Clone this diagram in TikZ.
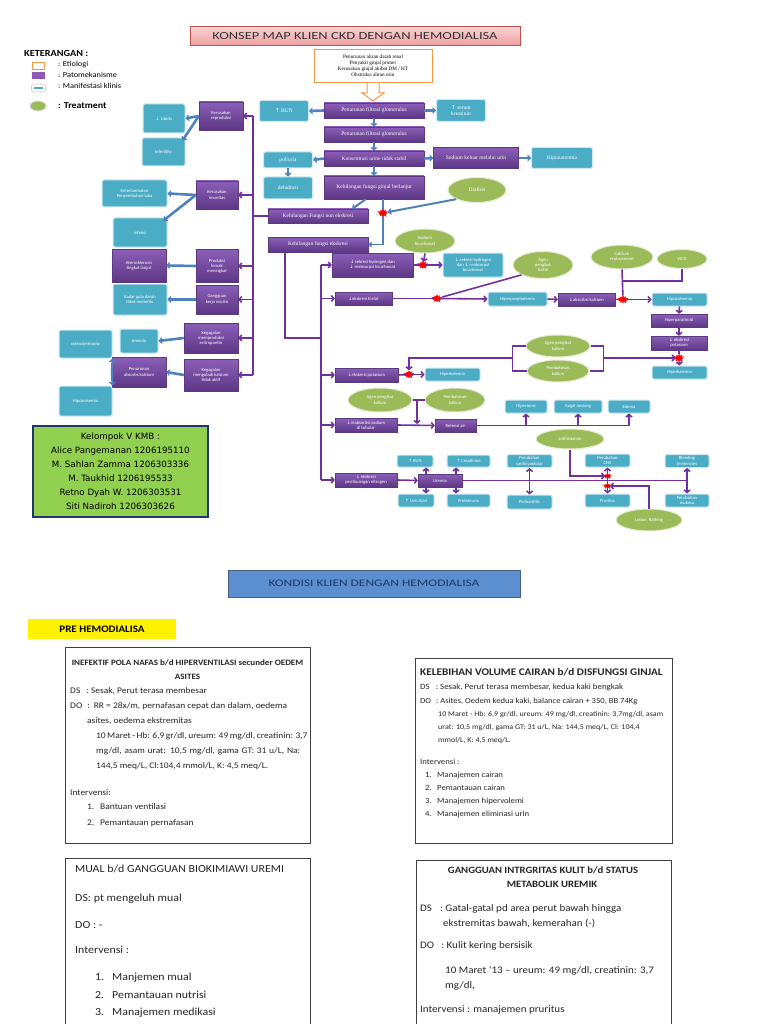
\documentclass[tikz,border=0pt]{standalone}
\usepackage{fontspec}
\setmainfont{Carlito}
\newfontfamily\serf{Liberation Serif}
\newfontfamily\dvs{DejaVu Sans}
\newfontfamily\wcal[FakeStretch=1.1]{Carlito}
\newfontfamily\wtitle[FakeStretch=1.34]{Carlito}
\usetikzlibrary{shapes.geometric,shapes.symbols,arrows.meta,calc}
\definecolor{pTop}{HTML}{8B5FB8}
\definecolor{pBot}{HTML}{5D3785}
\definecolor{pEdge}{HTML}{5A3A80}
\definecolor{cyFill}{HTML}{4BACC6}
\definecolor{cyEdge}{HTML}{CFE8F0}
\definecolor{grFill}{HTML}{9BBB59}
\definecolor{grEdge}{HTML}{E4EDD2}
\definecolor{blArr}{HTML}{4F81BD}
\definecolor{plLine}{HTML}{7030A0}
\definecolor{orEdge}{HTML}{F79646}
\definecolor{pinkT}{HTML}{FAD4D4}
\definecolor{pinkB}{HTML}{EE9F9F}
\definecolor{redEdge}{HTML}{C0504D}
\definecolor{kmbGreen}{HTML}{92D050}
\definecolor{navy}{HTML}{1F3864}
\definecolor{kondBlue}{HTML}{5B8FD0}
\newcommand{\arup}{{\dvs ↑}}
\newcommand{\ardn}{{\dvs ↓}}
\tikzset{
  pb/.style={rectangle, draw=pEdge, line width=0.4pt, top color=pTop, bottom color=pBot, text=white, align=center, inner sep=0.5pt, font=\fontsize{4.6}{5.2}\selectfont},
  pbs/.style={pb, font=\serf\fontsize{5.5}{6.2}\selectfont},
  cb/.style={rectangle, rounded corners=2pt, draw=cyEdge, line width=1pt, fill=cyFill, text=white, align=center, inner sep=0.5pt, font=\fontsize{4.6}{5.2}\selectfont},
  cbs/.style={cb, font=\serf\fontsize{5.5}{6.2}\selectfont},
  ge/.style={ellipse, draw=grEdge, line width=1pt, fill=grFill, text=white, align=center, inner sep=0pt, font=\fontsize{4.6}{5.2}\selectfont},
  burst/.style={starburst, starburst points=10, starburst point height=2.5pt, fill=red, draw=red, inner sep=0pt, minimum width=11pt, minimum height=9pt},
  barr/.style={draw=blArr, line width=2.6pt, -{Triangle[length=3.5pt,width=7pt]}},
  parr/.style={draw=plLine, line width=1.6pt, -{Straight Barb[length=2.5pt,width=6pt]}},
  pln/.style={draw=plLine, line width=1.6pt},
  pdbl/.style={draw=plLine, line width=1.6pt, {Straight Barb[length=2.5pt,width=6pt]}-{Straight Barb[length=2.5pt,width=6pt]}},
  sz/.style 2 args={minimum width=#1pt, minimum height=#2pt},
  tl/.style={anchor=base west, inner sep=0pt, text=black!85, font=\wcal\fontsize{8.6}{9}\selectfont},
  tc/.style={anchor=base, inner sep=0pt, text=black!85, font=\wcal\bfseries\fontsize{8.2}{9}\selectfont},
  boxframe/.style={draw=black!75, line width=1pt, inner sep=0pt},
  legtxt/.style={anchor=west, inner sep=0pt, font=\wcal\fontsize{7.6}{8}\selectfont},
}
\begin{document}
\begin{tikzpicture}[x=1pt,y=-1pt]
\useasboundingbox (0,0) rectangle (768,1024);
\fill[white] (0,0) rectangle (768,1024);

% ---------- title and legend
\node[draw=redEdge, line width=0.8pt, top color=pinkT, bottom color=pinkB, sz={330}{19}, text=black!80, font=\wtitle\fontsize{10.8}{10.8}\selectfont] (title) at (355,36) {KONSEP MAP KLIEN CKD DENGAN HEMODIALISA};
\node[anchor=west, inner sep=0pt, font=\wcal\bfseries\fontsize{9.3}{9.3}\selectfont] (leg) at (24,53) {KETERANGAN :};
\node[draw=orEdge, line width=1.2pt, sz={12}{7}, inner sep=0pt] (lg1) at (38.5,66) {};
\node[fill=plLine!80, sz={13}{7}, inner sep=0pt] (lg2) at (38.5,76) {};
\node[draw=gray!35, fill=white, rounded corners=2pt, sz={14}{8}, inner sep=0pt, line width=0.8pt] (lg3) at (38.5,88) {};
\node[fill=cyFill, sz={9}{2.2}, inner sep=0pt] (lg3b) at (38.5,88) {};
\node[ellipse, draw=gray!30, fill=grFill, line width=1pt, sz={16}{10}, inner sep=0pt] (lg4) at (38,106) {};
\node[legtxt] (lt1) at (58,65) {: Etiologi};
\node[legtxt] (lt2) at (58,75) {: Patomekanisme};
\node[legtxt] (lt3) at (58,86) {: Manifestasi klinis};
\node[legtxt, font=\wcal\bfseries\fontsize{9}{9}\selectfont] (lt4) at (58,106) {: Treatment};

% ---------- etiology
\node[draw=orEdge, line width=1pt, fill=white, sz={118}{33}, align=center, font=\serf\fontsize{5.2}{6}\selectfont] (etio) at (373,66) {Penurunan aliran darah renal\\Penyakit ginjal primer\\Kerusakan ginjal akibat DM / HT\\Obstruksi aliran urin};
\draw[draw=orEdge, line width=1pt, fill=white] ($(etio.south)+(-6,0)$) -- ($(etio.south)+(-6,10)$) -- ($(etio.south)+(-11,10)$) -- ($(etio.south)+(0,18)$) -- ($(etio.south)+(11,10)$) -- ($(etio.south)+(6,10)$) -- ($(etio.south)+(6,0)$);

% ---------- central column
\node[pbs, sz={100}{15}] (c1) at (374,110.5) {Penurunan filtrasi glomerulus};
\node[pbs, sz={100}{15}] (c2) at (374,134.5) {Penurunan filtrasi glomerulus};
\node[pbs, sz={100}{15}] (c3) at (374,158.5) {Konsentrasi urine tidak stabil};
\node[pbs, sz={100}{23}] (c4) at (374,187.5) {Kehilangan fungsi ginjal berlanjut};
\node[cbs, sz={49}{21}] (bun1) at (284,111) {\arup\ BUN};
\node[cbs, sz={49}{22}] (kreat) at (461,110.5) {\arup\ serum\\kreatinin};
\node[cbs, sz={49}{16}] (poli) at (288,160) {poliuria};
\node[cbs, sz={49}{22}] (dehi) at (288,188) {dehidrasi};
\node[pbs, sz={85}{21}] (sod) at (476,158) {Sodium keluar melalui urin};
\node[cbs, sz={61}{21}] (hipon) at (562,158) {Hiponatremia};
\node[ge, sz={58}{25}, font=\serf\fontsize{5.5}{6}\selectfont] (dial) at (477,190) {Dialisis};
\node[pbs, sz={100}{14}] (nonek) at (318,216) {Kehilangan Fungsi non ekskresi};
\node[pbs, sz={100}{15}] (eks) at (318,244.5) {Kehilangan fungsi ekskresi};

\draw[barr] (c1.south) -- (c2.north);
\draw[barr] (c2.south) -- (c3.north);
\draw[barr] (c3.south) -- (c4.north);
\draw[barr] (c1.west) -- (bun1.east);
\draw[barr] (c1.east) -- (kreat.west);
\draw[barr] (c3.west) -- (poli.east);
\draw[barr] (c3.east) -- (sod.west);
\draw[barr] (sod.east) -- (hipon.west);
\draw[barr] (poli.south) -- (dehi.north);
\draw[barr, line width=2pt] ($(c4.south west)+(42,0)$) -- ($(nonek.north east)+(-16,0)$);
\draw[draw=blArr, line width=1.8pt, -{Triangle[length=3.5pt,width=6pt]}] ($(c4.south)+(9,0)$) |- (eks.east);
\node[burst] (b1) at (383,213) {};
\draw[barr, line width=2pt] (dial.south west) -- (b1);

% ---------- left column
\node[pb, sz={44}{28}] (rep) at (221,116) {Kerusakan\\reproduksi};
\node[cb, sz={42}{29}] (lib) at (164,118.5) {\ardn\ Libido};
\node[cb, sz={43}{28}] (inf) at (163.5,152) {Infertility};
\node[pb, sz={42}{28}] (imun) at (217,195) {Kerusakan\\imunitas};
\node[cb, sz={65}{27}] (ket) at (134.5,193.5) {Keterlambatan\\Penyembuhan luka};
\node[cb, sz={54}{29}] (infe) at (140,232.5) {infeksi};
\node[pb, sz={42}{33}] (prod) at (217,266) {Produksi\\lemak\\meningkat};
\node[pb, sz={54}{33}] (ath) at (139,265.5) {Aterosklerosis\\tingkat lanjut};
\node[pb, sz={42}{29}] (gang) at (217,299.5) {Gangguan\\kerja insulin};
\node[cb, sz={54}{31}] (kad) at (140,299.5) {Kadar gula darah\\tidak menentu};
\node[pb, sz={54}{30}] (egg) at (211,338) {Kegagalan\\memproduksi\\eritropoetin};
\node[cb, sz={38}{24}] (anem) at (139,341) {Anemia};
\node[pb, sz={54}{32}] (kal) at (211,375) {Kegagalan\\mengubah kalsium\\tidak aktif};
\node[pb, sz={54}{30}] (pab) at (139,372) {Penurunan\\absorbs kalsium};
\node[cb, sz={53}{28}] (osteo) at (85.5,344) {osteodystrophy};
\node[cb, sz={53}{30}] (hipok) at (85.5,401) {Hipokalsemia};

\coordinate (lta) at (253,116);
\coordinate (ltb) at (253,195);
\coordinate (ltc) at (253,266);
\coordinate (ltd) at (253,299.5);
\coordinate (lte) at (253,338);
\coordinate (ltf) at (253,375);
\coordinate (ltj) at (253,216);
\draw[pln] (lta) -- (ltf);
\draw[pln] (nonek.west) -- (ltj);
\draw[parr] (lta) -- (rep.east);
\draw[parr] (ltb) -- (imun.east);
\draw[parr] (ltc) -- (prod.east);
\draw[parr] (ltd) -- (gang.east);
\draw[parr] (lte) -- (egg.east);
\draw[parr] (ltf) -- (kal.east);

\draw[barr] (rep.west) -- (lib.east);
\draw[barr] (rep.west) -- ($(inf.north east)+(-3,3)$);
\draw[barr] (imun.west) -- (ket.east);
\draw[barr] (imun.west) -- ($(infe.north east)+(-4,3)$);
\draw[barr] (prod.west) -- (ath.east);
\draw[barr] (gang.west) -- (kad.east);
\draw[barr] (egg.west) -- (anem.east);
\draw[barr] (kal.west) -- (pab.east);
\draw[barr, line width=2pt] (pab.west) -- (osteo.south east);
\draw[barr, line width=2pt] (pab.west) -- (hipok.north east);

% ---------- group box
\node[draw=navy, line width=1.5pt, fill=kmbGreen, sz={175}{91}, align=center, font=\dvs\fontsize{8.7}{14}\selectfont] (kmb) at (120.5,471.5) {Kelompok V KMB :\\Alice Pangemanan 1206195110\\M. Sahlan Zamma 1206303336\\M. Taukhid 1206195533\\Retno Dyah W. 1206303531\\Siti Nadiroh 1206303626};

% ---------- excretion trunk
\coordinate (ej) at (321,338);
\coordinate (eta) at (321,265);
\coordinate (etb) at (321,298.5);
\coordinate (etc) at (321,375);
\coordinate (etd) at (321,425);
\coordinate (ete) at (321,480);
\draw[pln] ($(eks.south west)+(17,0)$) |- (ej);
\draw[pln] (eta) -- (ete);

% hydrogen
\node[pb, sz={81}{24}] (hyd) at (372.5,265) {\ardn\ sekresi hydrogen dan\\\ardn\ reabsorpsi bicarbonat};
\node[ge, sz={60}{24}] (sbic) at (425,241) {Sodium\\bicarbonat};
\node[cb, sz={60}{24}] (hyd2) at (473,265) {\ardn\ sekresi hydrogen\\dan \ardn\ reabsorpsi\\bicarbonat};
\node[burst] (b2) at (423,265) {};
\draw[parr] (eta) -- (hyd.west);
\draw[pln] (hyd.east) -- (b2);
\draw[parr] (b2) -- (hyd2.west);
\draw[parr] (sbic.south) -- (b2);

% phosphate
\node[pb, sz={57}{13}] (fos) at (363.5,298.5) {\ardn ekskresi fosfat};
\node[ge, sz={60}{27}] (agf) at (543,265) {Agen\\pengikat\\fosfat};
\node[cb, sz={59}{14}] (hipp) at (517.5,299) {Hiperposphatemia};
\node[pb, sz={57}{13}] (abs) at (586.5,299.5) {\ardn absorbsi kalsium};
\node[burst] (b3) at (437,298.5) {};
\draw[parr] (etb) -- (fos.west);
\draw[pln] (fos.east) -- (b3);
\draw[parr] (b3) -- (hipp.west);
\draw[pln] (agf.south west) -- (b3);
\draw[parr] (hipp.east) -- (abs.west);

\node[ge, sz={62}{24}] (calr) at (622,257) {Calcium\\replacement};
\node[ge, sz={50}{19}] (vitd) at (682,259) {Vit D};
\node[cb, sz={55}{13}] (hipk) at (679.5,299.5) {Hipokalsemia};
\node[pb, sz={56}{13}] (hpt) at (679,320.5) {Hiperparatiroid};
\node[pb, sz={56}{14}] (pot2) at (679,343) {\ardn\ ekskresi\\potasium};
\node[cb, sz={55}{13}] (hkal2) at (679.5,372.5) {Hiperkalemia};
\node[burst] (b4) at (623,299.5) {};
\node[burst] (b5) at (679,358) {};
\draw[pln] (abs.east) -- (b4);
\draw[parr] (b4) -- (hipk.west);
\draw[pln] (calr.south) -- (b4);
\coordinate (vj) at (622,281);
\draw[pln] (vitd.south) |- (vj);
\draw[parr] (hipk.south) -- (hpt.north);
\draw[parr] (hpt.south) -- (pot2.north);
\draw[pln] (pot2.south) -- (b5);
\draw[parr] (b5) -- (hkal2.north);

% potassium
\node[pb, sz={63}{14}] (pot) at (366.5,375) {\ardn ekskresi potasium};
\node[cb, sz={55}{13}] (hkal) at (452.5,374.5) {Hiperkalemia};
\node[ge, sz={64}{22}] (agk) at (558,346) {Agen pengikat\\kalium};
\node[ge, sz={62}{22}] (pemb) at (558,371) {Pembatasan\\kalium};
\node[burst] (b6) at (409,374.5) {};
\draw[parr] (etc) -- (pot.west);
\draw[pln] (pot.east) -- (b6);
\draw[parr] (b6) -- (hkal.west);
\draw[pln] (agk.west) -- ++(-13,0) |- (pemb.west);
\draw[pln] (agk.east) -- ++(13,0) |- (pemb.east);
\coordinate (kbl) at (513,358);
\coordinate (kbr) at (603,358);
\draw[parr] (kbl) -| (b6);
\draw[parr] (kbr) -- (b5);

% sodium reabsorption
\node[pb, sz={62}{14}] (reab) at (366,425) {\ardn reabsorbsi sodium\\di tubular};
\node[ge, sz={64}{24}] (agk2) at (380,400) {Agen pengikat\\kalium};
\node[ge, sz={60}{24}] (pemb2) at (455,400) {Pembatasan\\kalium};
\node[pb, sz={41}{13}] (ret) at (455.5,425.5) {Retensi air};
\node[cb, sz={42}{13}] (hip) at (526,406.5) {Hipertensi};
\node[cb, sz={48}{13}] (gj) at (578,406.5) {Gagal Jantung};
\node[cb, sz={42}{13}] (ed) at (629,406.5) {Edema};
\draw[parr] (etd) -- (reab.west);
\draw[parr] (reab.east) -- (ret.west);
\draw[pln] (agk2.east) -- (pemb2.west);
\coordinate (kj) at (417,400);
\coordinate (kj2) at (417,424);
\draw[parr] (kj) -- (kj2);
\coordinate (ra) at (526,425.5);
\coordinate (rb) at (578,425.5);
\coordinate (rc) at (629,425.5);
\draw[pln] (ret.east) -- (rc);
\draw[parr] (ra) -- (hip.south);
\draw[parr] (rb) -- (gj.south);
\draw[parr] (rc) -- (ed.south);

% nitrogen
\node[pb, sz={62}{14}] (nit) at (366,480) {\ardn\ ekskresi\\pembuangan nitrogen};
\node[cb, sz={36}{12}] (bun2) at (415,461) {\arup\ BUN};
\node[cb, sz={43}{12}] (cre) at (468.5,461) {\arup\ Creatinine};
\node[cb, sz={36}{13}] (uric) at (416,500.5) {\arup\ Uric Acid};
\node[cb, sz={43}{13}] (prot) at (468.5,500.5) {Proteinuria};
\draw[pdbl] ($(bun2.south)+(11,0)$) -- ($(uric.north)+(10,0)$);
\draw[pdbl] ($(cre.south)+(-12.5,0)$) -- ($(prot.north)+(-12.5,0)$);
\node[pb, sz={44}{13}] (urem) at (440,480.5) {Uremia};
\draw[parr] (ete) -- (nit.west);
\draw[parr] (nit.east) -- (urem.west);
\coordinate (ue) at (687,480.5);
\draw[pln] (urem.east) -- (ue);

\node[cb, sz={45}{13}] (cv) at (529.5,461) {Perubahan\\cardiovaskular};
\node[cb, sz={45}{14}] (peri) at (529.5,502) {Perikarditis};
\node[cb, sz={45}{13}] (cns) at (607.5,460.5) {Perubahan\\CNS};
\node[cb, sz={45}{13}] (prur) at (607.5,500.5) {Pruritus};
\node[cb, sz={44}{13}] (bleed) at (687,461) {Bleeding\\tendencies};
\node[cb, sz={44}{13}] (muk) at (687,500.5) {Perubahan\\mukosa};
\node[ge, sz={68}{20}] (antih) at (570,439) {antihistamin};
\node[ge, sz={66}{22}] (lot) at (649,520) {Lotion, Bathing};
\draw[pdbl] (cv.south) -- (peri.north);
\draw[pdbl] (cns.south) -- (prur.north);
\draw[pdbl] (bleed.south) -- (muk.north);
\node[burst, minimum width=9pt, minimum height=7pt] (b7) at (607.5,476) {};
\node[burst, minimum width=9pt, minimum height=7pt] (b8) at (607.5,486) {};
\draw[parr] (antih.south) |- (b7);
\draw[parr] (lot.north) |- (b8);

% ---------- lower section
\node[draw=navy!80, line width=0.8pt, fill=kondBlue, sz={292}{27}, text=navy, font=\wtitle\fontsize{10}{10}\selectfont] (kond) at (374,583.5) {KONDISI KLIEN DENGAN HEMODIALISA};
\node[fill=yellow, sz={148}{20}, inner sep=0pt, font=\wcal\bfseries\fontsize{10}{10}\selectfont] (pre) at (102,629) {PRE HEMODIALISA};

\node[boxframe, sz={245}{196}] (bx1) at (187.5,745) {};
\node[boxframe, sz={257}{185}] (bx2) at (543.5,750.5) {};
\node[boxframe, sz={245}{172}] (bx3) at (187.5,944) {};
\node[boxframe, sz={255}{170}] (bx4) at (543.5,945) {};

% box 1
\node[tc] (a1) at (187.5,665) {INEFEKTIF POLA NAFAS b/d HIPERVENTILASI secunder OEDEM};
\node[tc] (a2) at (187.5,679) {ASITES};
\node[tl] (a3) at (70,693) {DS\hspace{6pt}: Sesak, Perut terasa membesar};
\node[tl] (a4) at (70,708) {DO\hspace{5pt}:\hspace{4pt}RR = 28x/m, pernafasan cepat dan dalam, oedema};
\node[tl] (a5) at (87,723) {asites, oedema ekstremitas};
\node[tl] (a6) at (96,738) {\makebox[204pt][s]{10 Maret - Hb: 6,9 gr/dl, ureum: 49 mg/dl, creatinin: 3,7}};
\node[tl] (a7) at (96,753) {\makebox[204pt][s]{mg/dl, asam urat: 10,5 mg/dl, gama GT: 31 u/L, Na:}};
\node[tl] (a8) at (96,768) {144,5 meq/L, Cl:104,4 mmol/L, K: 4,5 meq/L.};
\node[tl] (a9) at (70,795) {Intervensi:};
\node[tl] (a10) at (87,809) {\makebox[13pt][l]{1.}Bantuan ventilasi};
\node[tl] (a11) at (87,825) {\makebox[13pt][l]{2.}Pemantauan pernafasan};

% box 2
\node[tl, font=\wcal\bfseries\fontsize{10.2}{11}\selectfont] (d1) at (420,675) {KELEBIHAN VOLUME CAIRAN b/d DISFUNGSI GINJAL};
\node[tl, font=\wcal\fontsize{8.1}{8}\selectfont] (d2) at (420,689.5) {DS\hspace{6pt}: Sesak, Perut terasa membesar, kedua kaki bengkak};
\node[tl, font=\wcal\fontsize{7.8}{8}\selectfont] (d3) at (420,703.5) {DO\hspace{5pt}: Asites, Oedem kedua kaki, balance cairan + 350, BB 74Kg};
\node[tl, font=\wcal\fontsize{7.3}{8}\selectfont] (d4) at (438,716.5) {10 Maret - Hb: 6,9 gr/dl, ureum: 49 mg/dl, creatinin: 3,7mg/dl, asam};
\node[tl, font=\wcal\fontsize{7.3}{8}\selectfont] (d5) at (438,729.5) {urat: 10,5 mg/dl, gama GT: 31 u/L, Na: 144,5 meq/L, Cl: 104,4};
\node[tl, font=\wcal\fontsize{7.3}{8}\selectfont] (d6) at (438,742.5) {mmol/L, K: 4,5 meq/L.};
\node[tl, font=\wcal\fontsize{7.9}{8}\selectfont] (d7) at (420,764.5) {Intervensi :};
\node[tl, font=\wcal\fontsize{7.9}{8}\selectfont] (d8) at (425,777.5) {\makebox[12pt][l]{1.}Manajemen cairan};
\node[tl, font=\wcal\fontsize{7.9}{8}\selectfont] (d9) at (425,790.5) {\makebox[12pt][l]{2.}Pemantauan cairan};
\node[tl, font=\wcal\fontsize{7.9}{8}\selectfont] (d10) at (425,803.5) {\makebox[12pt][l]{3.}Manajemen hipervolemi};
\node[tl, font=\wcal\fontsize{7.9}{8}\selectfont] (d11) at (425,816.5) {\makebox[12pt][l]{4.}Manajemen eliminasi urin};

% box 3
\node[tl, font=\wcal\fontsize{10.8}{11}\selectfont] (m1) at (75,872) {MUAL b/d GANGGUAN BIOKIMIAWI UREMI};
\node[tl, font=\wcal\fontsize{10.8}{11}\selectfont] (m2) at (75,901) {DS: pt mengeluh mual};
\node[tl, font=\wcal\fontsize{10.8}{11}\selectfont] (m3) at (75,928) {DO : -};
\node[tl, font=\wcal\fontsize{10.8}{11}\selectfont] (m4) at (75,953) {Intervensi :};
\node[tl, font=\wcal\fontsize{10.8}{11}\selectfont] (m5) at (95,980) {\makebox[17pt][l]{1.}Manjemen mual};
\node[tl, font=\wcal\fontsize{10.8}{11}\selectfont] (m6) at (95,998) {\makebox[17pt][l]{2.}Pemantauan nutrisi};
\node[tl, font=\wcal\fontsize{10.8}{11}\selectfont] (m7) at (95,1015) {\makebox[17pt][l]{3.}Manajemen medikasi};

% box 4
\node[tc, font=\wcal\bfseries\fontsize{9.7}{10}\selectfont] (g1) at (543,873.5) {GANGGUAN INTRGRITAS KULIT b/d STATUS};
\node[tc, font=\wcal\bfseries\fontsize{9.7}{10}\selectfont] (g2) at (552,887.5) {METABOLIK UREMIK};
\node[tl, font=\wcal\fontsize{10}{10}\selectfont] (g3) at (420,911.5) {DS\hspace{8pt}: Gatal-gatal pd area perut bawah hingga};
\node[tl, font=\wcal\fontsize{10}{10}\selectfont] (g4) at (443,926.5) {ekstremitas bawah, kemerahan (-)};
\node[tl, font=\wcal\fontsize{10}{10}\selectfont] (g5) at (420,948.5) {DO\hspace{7pt}: Kulit kering bersisik};
\node[tl, font=\wcal\fontsize{10}{10}\selectfont] (g6) at (445,973.5) {10 Maret ‘13 – ureum: 49 mg/dl, creatinin: 3,7};
\node[tl, font=\wcal\fontsize{10}{10}\selectfont] (g7) at (445,988.5) {mg/dl,};
\node[tl, font=\wcal\fontsize{10}{10}\selectfont] (g8) at (420,1012.5) {Intervensi : manajemen pruritus};
\end{tikzpicture}
\end{document}
